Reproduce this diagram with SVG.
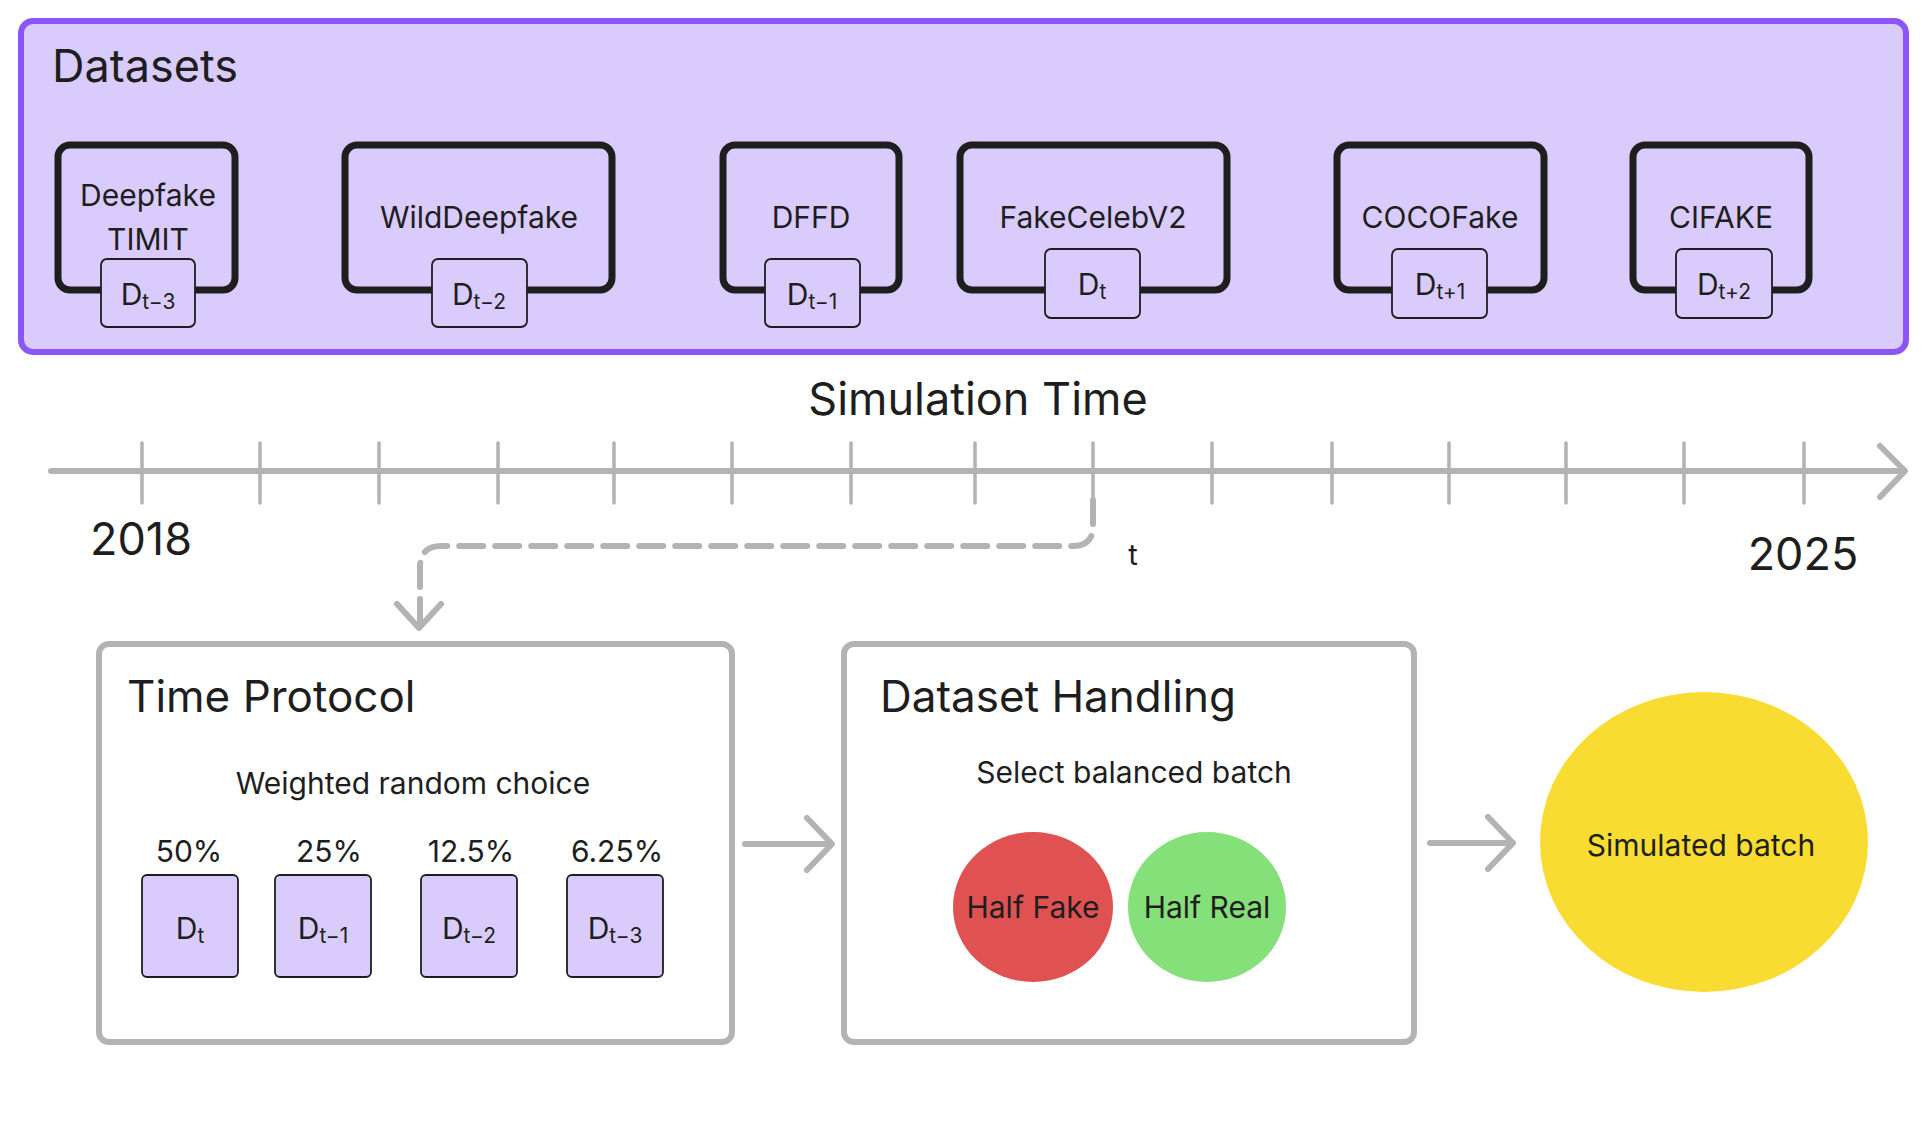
<svg xmlns="http://www.w3.org/2000/svg" width="1932" height="1128" viewBox="0 0 1932 1128">
<style>
text{font-family:Inter,"Noto Sans","Liberation Sans",sans-serif;fill:#1e1e1e}
.ds{fill:none;stroke:#1e1e1e;stroke-width:7}
.tag{fill:#d9ccfc;stroke:#1e1e1e;stroke-width:1.8}
.lbl{font-size:30px;text-anchor:middle}
.big{font-size:45px}
.hd{font-size:44px}
.sub{font-size:21px}
.gray{fill:none;stroke:#b3b3b3;stroke-linecap:round;stroke-linejoin:round}
.box{fill:#fff;stroke:#b3b3b3;stroke-width:6}
</style>
<g id="datasets">
<rect x="21" y="21" width="1885" height="331" rx="12" fill="#d9ccfc" stroke="#8c55f6" stroke-width="6"/>
<text x="52" y="82" class="big">Datasets</text>
</g>
<g id="ds-timit">
<rect x="58" y="145" width="177" height="145" rx="12" class="ds"/>
<text class="lbl" x="148" y="206">Deepfake</text>
<text class="lbl" x="148" y="250">TIMIT</text>
<rect x="101" y="259" width="94" height="68" rx="6" class="tag"/>
<text class="lbl" x="148" y="305">D<tspan class="sub" dy="4">t−3</tspan></text>
</g>
<g id="ds-wild">
<rect x="345" y="145" width="267" height="145" rx="12" class="ds"/>
<text class="lbl" x="479" y="228">WildDeepfake</text>
<rect x="432" y="259" width="95" height="68" rx="6" class="tag"/>
<text class="lbl" x="479" y="305">D<tspan class="sub" dy="4">t−2</tspan></text>
</g>
<g id="ds-dffd">
<rect x="723" y="145" width="176" height="145" rx="12" class="ds"/>
<text class="lbl" x="811" y="228">DFFD</text>
<rect x="765" y="259" width="95" height="68" rx="6" class="tag"/>
<text class="lbl" x="812" y="305">D<tspan class="sub" dy="4">t−1</tspan></text>
</g>
<g id="ds-fakeceleb">
<rect x="960" y="145" width="267" height="145" rx="12" class="ds"/>
<text class="lbl" x="1093" y="228">FakeCelebV2</text>
<rect x="1045" y="249" width="95" height="69" rx="6" class="tag"/>
<text class="lbl" x="1092" y="295">D<tspan class="sub" dy="4">t</tspan></text>
</g>
<g id="ds-coco">
<rect x="1337" y="145" width="207" height="145" rx="12" class="ds"/>
<text class="lbl" x="1440" y="228">COCOFake</text>
<rect x="1392" y="249" width="95" height="69" rx="6" class="tag"/>
<text class="lbl" x="1440" y="295">D<tspan class="sub" dy="4">t+1</tspan></text>
</g>
<g id="ds-cifake">
<rect x="1633" y="145" width="176" height="145" rx="12" class="ds"/>
<text class="lbl" x="1721" y="228">CIFAKE</text>
<rect x="1676" y="249" width="96" height="69" rx="6" class="tag"/>
<text class="lbl" x="1724" y="295">D<tspan class="sub" dy="4">t+2</tspan></text>
</g>
<g id="timeline">
<text x="978" y="415" class="big" text-anchor="middle">Simulation Time</text>
<path class="gray" stroke-width="6" d="M51 471H1903M1880 446L1905 471L1880 497"/>
<path class="gray" stroke-width="3.5" d="M142 443V503M260 443V503M379 443V503M498 443V503M614 443V503M732 443V503M851 443V503M975 443V503M1212 443V503M1332 443V503M1449 443V503M1566 443V503M1684 443V503M1804 443V503M1093 443V503"/>
<text x="141" y="555" class="big" text-anchor="middle">2018</text>
<text x="1803" y="570" class="big" text-anchor="middle">2025</text>
<text x="1133" y="565" font-size="29" text-anchor="middle">t</text>
</g>
<g id="time-protocol">
<rect x="99" y="644" width="633" height="398" rx="10" class="box"/>
<text x="127" y="712" class="hd">Time Protocol</text>
<text class="lbl" x="413" y="794">Weighted random choice</text>
<text class="lbl" x="189" y="862">50%</text>
<text class="lbl" x="329" y="862">25%</text>
<text class="lbl" x="471" y="862">12.5%</text>
<text class="lbl" x="617" y="862">6.25%</text>
<rect x="142" y="875" width="96" height="102" rx="5" class="tag"/>
<rect x="275" y="875" width="96" height="102" rx="5" class="tag"/>
<rect x="421" y="875" width="96" height="102" rx="5" class="tag"/>
<rect x="567" y="875" width="96" height="102" rx="5" class="tag"/>
<text class="lbl" x="190" y="939">D<tspan class="sub" dy="4">t</tspan></text>
<text class="lbl" x="323" y="939">D<tspan class="sub" dy="4">t−1</tspan></text>
<text class="lbl" x="469" y="939">D<tspan class="sub" dy="4">t−2</tspan></text>
<text class="lbl" x="615" y="939">D<tspan class="sub" dy="4">t−3</tspan></text>
</g>
<g id="dataset-handling">
<rect x="844" y="644" width="570" height="398" rx="10" class="box"/>
<text x="880" y="712" class="hd">Dataset Handling</text>
<text class="lbl" x="1134" y="783">Select balanced batch</text>
<ellipse cx="1033" cy="907" rx="80" ry="75" fill="#e05252"/>
<ellipse cx="1207" cy="907" rx="79" ry="75" fill="#85e07a"/>
<text class="lbl" x="1033" y="918">Half Fake</text>
<text class="lbl" x="1207" y="918">Half Real</text>
</g>
<g id="simulated-batch">
<ellipse cx="1704" cy="842" rx="164" ry="150" fill="#f8dc32"/>
<text class="lbl" x="1701" y="856">Simulated batch</text>
</g>
<g id="connectors">
<path class="gray" stroke-width="6" stroke-dasharray="24 12" d="M1093 500V526Q1093 546 1073 546H441Q421 546 420 566V628"/>
<path class="gray" stroke-width="6" d="M397 604L419 628L441 604"/>
<path class="gray" stroke-width="6" d="M745 844H830M807 818L832 844L807 870"/>
<path class="gray" stroke-width="6" d="M1430 843H1511M1488 817L1513 843L1488 869"/>
</g>
</svg>
